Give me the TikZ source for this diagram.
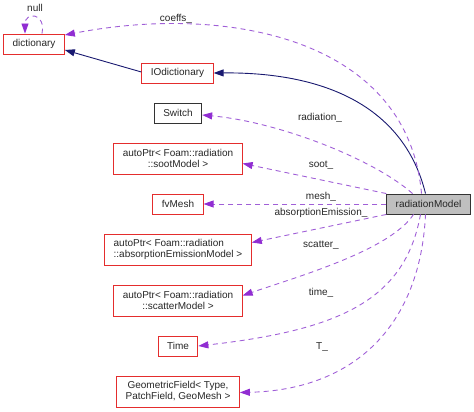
\documentclass[tikz,border=0pt]{standalone}
\usepackage{fontspec}
\setmainfont{Liberation Sans}
\usepackage{tikz}
\usetikzlibrary{arrows.meta}

\begin{document}
\begin{tikzpicture}[
  x=1pt, y=-1pt,
  cls/.style={
    draw=boxred,
    line width=0.9pt,
    minimum height=20pt,
    inner xsep=9pt,
    inner ysep=2pt,
    font=\fontsize{10}{11}\selectfont,
    text=black!85
  },
  clstwo/.style={
    cls,
    minimum height=31pt,
    align=center
  },
  uses/.style={
    draw=orchidline,
    line width=0.9pt,
    dash pattern=on 5pt off 4pt,
    -{Triangle[length=10pt,width=7pt,color=orchid]}
  },
  isa/.style={
    draw=navyline,
    line width=0.9pt,
    -{Triangle[length=10pt,width=7pt,fill=navyline]}
  },
  edgelabel/.style={
    font=\fontsize{10}{11}\selectfont,
    text=black!85
  }
]

\definecolor{boxred}{RGB}{228,45,45}
\definecolor{orchid}{RGB}{145,45,210}
\definecolor{orchidline}{RGB}{160,95,215}
\definecolor{navyline}{RGB}{25,25,112}
\definecolor{rmfill}{RGB}{191,191,191}

\useasboundingbox (0,0) rectangle (474,412);

% classes
\node[cls] (dict) at (34,44) {dictionary};
\node[cls] (iodict) at (177.5,73) {IOdictionary};
\node[cls, draw=black!80] (switch) at (178,113) {Switch};
\node[clstwo] (soot) at (178,158.5) {autoPtr< Foam::radiation\\::sootModel >};
\node[cls] (mesh) at (178,204) {fvMesh};
\node[clstwo, align=left] (absem) at (178,249.5)
  {autoPtr< Foam::radiation\\::absorptionEmissionModel >};
\node[clstwo] (scatter) at (178,300.5) {autoPtr< Foam::radiation\\::scatterModel >};
\node[cls] (time) at (178,346) {Time};
\node[clstwo] (tfield) at (178,391.5) {GeometricField< Type,\\PatchField, GeoMesh >};
\node[cls, draw=black!80, fill=rmfill] (rm) at (428.5,204) {radiationModel};

% inheritance
\draw[isa] ([yshift=1pt]iodict.west) -- ([yshift=-6pt]dict.east);
\draw[isa] ([xshift=-3pt]rm.north) .. controls (405,110) and (330,72) .. (iodict.east);

% members
\draw[uses] ([xshift=8pt]dict.north) .. controls (46,12) and (25,12) .. ([xshift=-9pt]dict.north);
\draw[uses] ([xshift=-7pt]rm.north) .. controls (408,40) and (230,3) .. ([yshift=9pt]dict.east);
\draw[uses] ([xshift=-16pt]rm.north) .. controls (375,160) and (280,122) .. ([yshift=-2pt]switch.east);
\draw[uses] (rm.north west) -- ([yshift=-5pt]soot.east);
\draw[uses] (rm.west) -- (mesh.east);
\draw[uses] (rm.south west) -- ([yshift=7pt]absem.east);
\draw[uses] ([xshift=-15pt]rm.south) .. controls (390,250) and (300,276) .. ([yshift=5pt]scatter.east);
\draw[uses] ([xshift=-8pt]rm.south) .. controls (405,300) and (340,330) .. (time.east);
\draw[uses] ([xshift=-3pt]rm.south) .. controls (420,330) and (350,390) .. ([yshift=-1pt]tfield.east);

% labels
\node[edgelabel] (lnull) at (35,8) {null};
\node[edgelabel] (lcoeffs) at (176,19) {coeffs\_};
\node[edgelabel] (lrad) at (320,118) {radiation\_};
\node[edgelabel] (lsoot) at (321,165) {soot\_};
\node[edgelabel] (lmesh) at (321,197) {mesh\_};
\node[edgelabel] (labsem) at (321,213) {absorptionEmission\_};
\node[edgelabel] (lscatter) at (321,245) {scatter\_};
\node[edgelabel] (ltime) at (321,293) {time\_};
\node[edgelabel] (lT) at (322,347) {T\_};

\end{tikzpicture}
\end{document}
